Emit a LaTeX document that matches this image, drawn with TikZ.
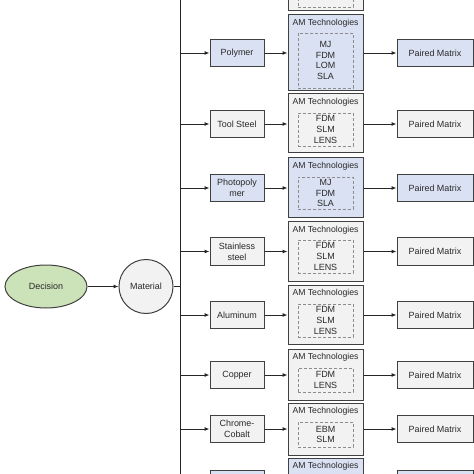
\documentclass[tikz,border=0pt]{standalone}
\usepackage{fontspec}
\setmainfont{Liberation Sans}
\usetikzlibrary{arrows.meta,shapes.geometric}
\definecolor{bluef}{HTML}{DAE1F3}
\definecolor{grayf}{HTML}{F2F2F2}
\definecolor{greenf}{HTML}{CCE2B8}
\definecolor{edgec}{HTML}{404040}
\definecolor{txtc}{HTML}{2A2A2A}
\tikzset{
  lbl/.style={font=\fontsize{9}{10.8}\selectfont, text=txtc, align=center},
  box/.style={lbl, draw=edgec, line width=1bp, inner sep=0pt},
  matbox/.style={box, minimum width=54bp, minimum height=27.5bp},
  ambox/.style={box, minimum width=75bp},
  titletext/.style={lbl, font=\fontsize{8.7}{10.8}\selectfont, inner sep=0pt},
  inbox/.style={lbl, draw=black!45, line width=0.8bp, dash pattern=on 3bp off 2bp, minimum width=55bp, inner sep=0pt},
  pairbox/.style={box, minimum width=76bp, minimum height=27.5bp},
  conn/.style={draw=black!85, line width=0.8bp, -{Latex[length=4.8bp,width=3.8bp]}},
  plain/.style={draw=black!85, line width=0.8bp},
}
% #1 id, #2 centre y, #3 AM top, #4 AM bottom, #5 inner top, #6 inner bottom, #7 material, #8 techs, #9 fill
\newcommand\amrow[9]{%
  \coordinate (b#1) at (180,#2);
  \node[matbox, fill=#9] (m#1) at (237,#2) {#7};
  \node[ambox, fill=#9, minimum height={(#4-#3)*1bp}] (a#1) at (325.5,{(#3+#4)/2}) {};
  \node[titletext] (t#1) at (325.5,{#3+8.7}) {AM Technologies};
  \node[inbox, minimum height={(#6-#5)*1bp}] (d#1) at (325.5,{(#5+#6)/2}) {#8};
  \node[pairbox, fill=#9] (p#1) at (435,#2) {Paired Matrix};
  \draw[conn] (b#1) -- (m#1.west);
  \draw[conn] (m#1.east) -- (m#1.east -| a#1.west);
  \draw[conn] (a#1.east |- p#1.west) -- (p#1.west);
}
\begin{document}
\begin{tikzpicture}[x=1bp,y=-1bp]
  \clip (0,0) rectangle (474,474);
  % bus
  \coordinate (bustop) at (180,0);
  \coordinate (busbot) at (180,474);
  \draw[plain] (bustop) -- (busbot);
  % top partial row
  \node[ambox, fill=grayf, minimum height=59bp] (a0) at (325.5,-18.5) {};
  \node[inbox, minimum height=37bp] (d0) at (325.5,-11.5) {};
  % rows
  \amrow{1}{53}{15}{91}{33}{88}{Polymer}{MJ\\FDM\\LOM\\SLA}{bluef}
  \amrow{2}{124}{94}{153}{113}{146}{Tool Steel}{FDM\\SLM\\LENS}{grayf}
  \amrow{3}{188}{158}{218}{177}{209}{Photopoly\\mer}{MJ\\FDM\\SLA}{bluef}
  \amrow{4}{251.5}{222}{281}{240}{273}{Stainless\\steel}{FDM\\SLM\\LENS}{grayf}
  \amrow{5}{315}{285}{344}{304}{337}{Aluminum}{FDM\\SLM\\LENS}{grayf}
  \amrow{6}{375}{349}{400}{368}{392}{Copper}{FDM\\LENS}{grayf}
  \amrow{7}{429}{403}{455}{422}{447}{Chrome-\\Cobalt}{EBM\\SLM}{grayf}
  % bottom partial row
  \coordinate (b8) at (180,484);
  \node[matbox, fill=bluef] (m8) at (237,484) {};
  \node[ambox, fill=bluef, minimum height=52bp] (a8) at (325.5,484) {};
  \node[titletext] (t8) at (325.5,466.7) {AM Technologies};
  \node[pairbox, fill=bluef] (p8) at (435,484) {};
  \draw[conn] (b8) -- (m8.west);
  % decision and material
  \node[lbl, ellipse, draw=edgec, line width=1bp, fill=greenf, minimum width=82bp, minimum height=43bp, inner sep=0pt] (dec) at (46,286.5) {Decision};
  \node[lbl, circle, draw=edgec, line width=1bp, fill=grayf, minimum size=54bp, inner sep=0pt] (mat) at (146,286.5) {Material};
  \draw[conn] (dec) -- (mat);
  \draw[plain] (mat.east) -- (mat.east -| bustop);
\end{tikzpicture}
\end{document}
